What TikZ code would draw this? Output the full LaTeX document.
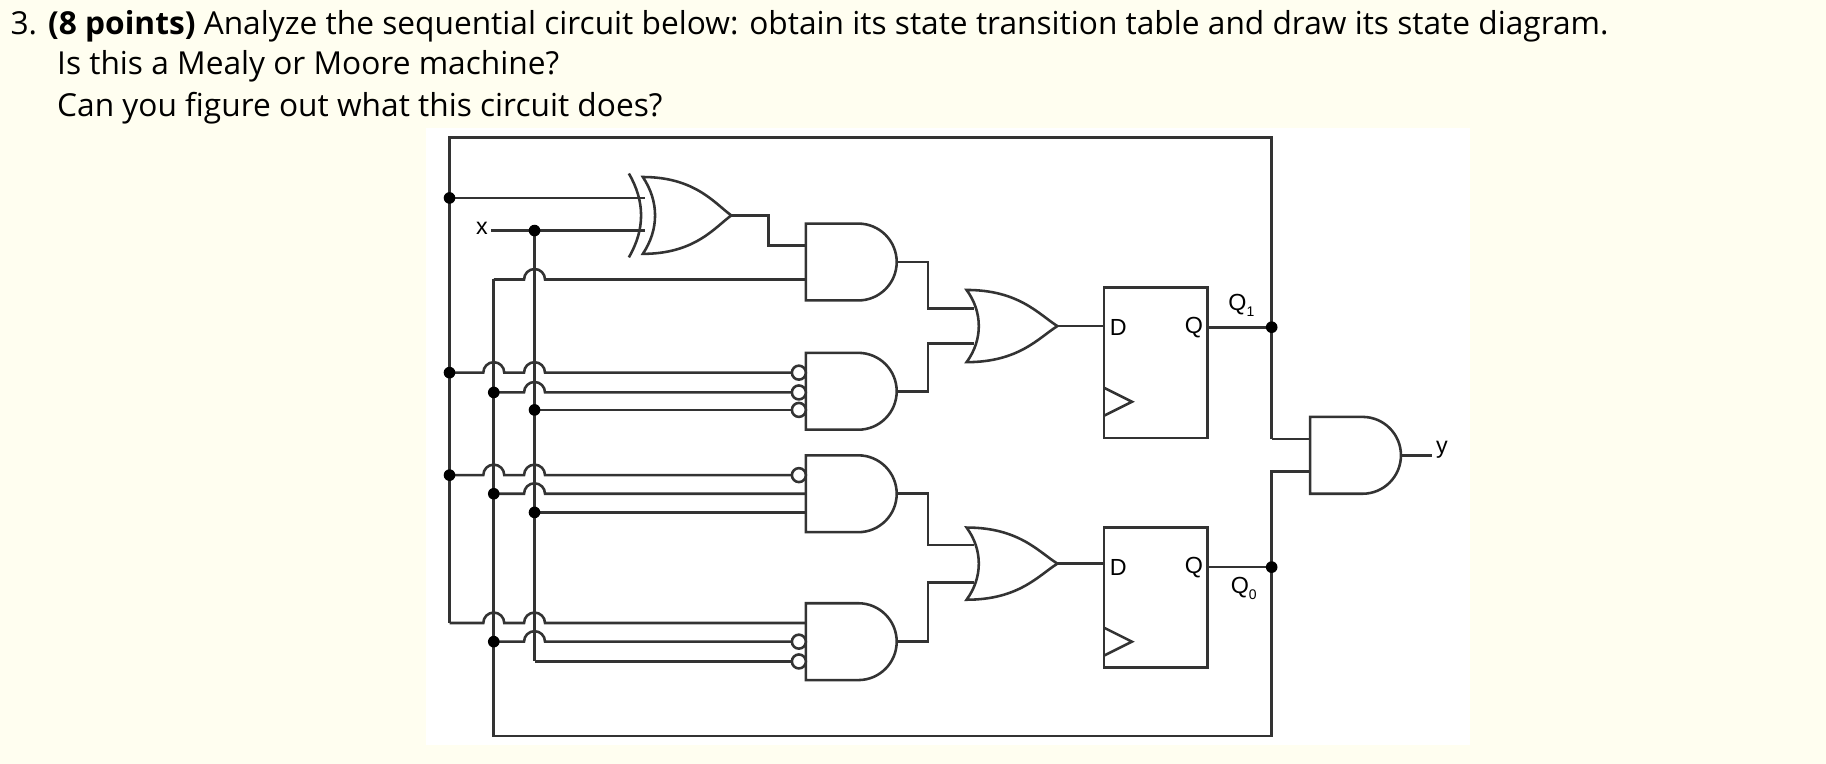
\documentclass[tikz,border=0pt]{standalone}
\usepackage{fontspec}
\setmainfont{Open Sans}
\newfontfamily\arialf{Liberation Sans}
\begin{document}
\begin{tikzpicture}[x=0.5pt,y=-0.5pt,line width=1.1pt,
  wire/.style={draw=black!80},
  gate/.style={draw=black!80,fill=white},
  dot/.style={circle,fill=black,inner sep=0pt,minimum size=5pt},
  bub/.style={circle,draw=black!80,fill=white,inner sep=0pt,minimum size=6pt},
  lab/.style={font=\arialf\fontsize{10}{12}\selectfont,inner sep=0pt},
  jump/.style={},
  andg/.pic={\path[gate] (0,-33) -- (45,-33) arc[start angle=90,end angle=-90,radius=16.5pt] -- (0,33) -- cycle;},
  org/.pic={\path[gate] (0,-31) .. controls (45,-31) and (62,-10) .. (78,0) .. controls (62,10) and (45,31) .. (0,31) .. controls (14,12) and (14,-12) .. cycle;},
  xorg/.pic={\path[gate] (0,-33) .. controls (45,-33) and (62,-10) .. (76,0) .. controls (62,10) and (45,33) .. (0,33) .. controls (14,12) and (14,-12) .. cycle;
    \draw[draw=black!80] (-12,-36) .. controls (2,-12) and (2,12) .. (-12,36);}]
\fill[yellow!6] (0,0) rectangle (1568,656);
\fill[white] (366,110) rectangle (1262,640);
\node[anchor=base west,inner sep=0pt,font=\fontsize{13.6}{16}\selectfont] (t1) at (8,30) {3. \textbf{(8 points)} Analyze the sequential circuit below: obtain its state transition table and draw its state diagram.};
\node[anchor=base west,inner sep=0pt,font=\fontsize{13.6}{16}\selectfont] (t2) at (48,64) {Is this a Mealy or Moore machine?};
\node[anchor=base west,inner sep=0pt,font=\fontsize{13.6}{16}\selectfont] (t3) at (48,100) {Can you figure out what this circuit does?};
% gates
\pic at (552,185) {xorg};
\pic at (692,225) {andg};
\pic at (692,336) {andg};
\pic at (692,424) {andg};
\pic at (692,551) {andg};
\pic at (830,280) {org};
\pic at (830,484) {org};
\pic at (1125,391) {andg};
% flip-flops
\draw[draw=black!80] (948,247) rectangle (1037,376);
\draw[draw=black!80] (948,453) rectangle (1037,573);
\draw[draw=black!80] (948,333) -- (972,345) -- (948,357);
\draw[draw=black!80] (948,539) -- (972,551) -- (948,563);
\node[lab,anchor=west] (d1) at (952,281) {D};
\node[lab,anchor=east] (q1) at (1034,281) {Q};
\node[lab,anchor=west] (d0) at (952,487) {D};
\node[lab,anchor=east] (q0) at (1034,487) {Q};
\node[lab] (lq1) at (1066,262) {Q\raisebox{-0.5ex}{\fontsize{6}{6}\selectfont 1}};
\node[lab] (lq0) at (1068,505) {Q\raisebox{-0.5ex}{\fontsize{6}{6}\selectfont 0}};
\node[lab,anchor=east] (lx) at (420,196) {x};
\node[lab,anchor=west] (ly) at (1232,386) {y};
% Q1 loop
\draw[wire] (1037,281) -- (1092,281);
\draw[wire] (1092,377) -- (1092,118) -- (386,118) -- (386,535);
\draw[wire] (1092,377) -- (1125,377);
\draw[wire] (386,170) -- (554,170);
% Q0 loop
\draw[wire] (1037,487) -- (1092,487);
\draw[wire] (1125,405) -- (1092,405) -- (1092,632) -- (424,632) -- (424,240);
% x
\draw[wire] (422,198) -- (554,198);
\draw[wire] (459,198) -- (459,568);
% XOR -> AND1
\draw[wire] (628,185) -- (660,185) -- (660,211) -- (692,211);
% AND1 bottom input (Q0)
\draw[wire] (424,240) -- (450,240) arc[start angle=180,end angle=0,radius=4.5pt] -- (692,240);
% AND2 inputs
\draw[wire] (386,320) -- (415,320) arc[start angle=180,end angle=0,radius=4.5pt] -- (450,320) arc[start angle=180,end angle=0,radius=4.5pt] -- (680,320);
\draw[wire] (424,337) -- (450,337) arc[start angle=180,end angle=0,radius=4.5pt] -- (680,337);
\draw[wire] (459,352) -- (680,352);
\node[bub] at (686,320) {}; \node[bub] at (686,337) {}; \node[bub] at (686,352) {};
% AND3 inputs
\draw[wire] (386,408) -- (415,408) arc[start angle=180,end angle=0,radius=4.5pt] -- (450,408) arc[start angle=180,end angle=0,radius=4.5pt] -- (680,408);
\draw[wire] (424,424) -- (450,424) arc[start angle=180,end angle=0,radius=4.5pt] -- (692,424);
\draw[wire] (459,440) -- (692,440);
\node[bub] at (686,408) {};
% AND4 inputs
\draw[wire] (386,535) -- (415,535) arc[start angle=180,end angle=0,radius=4.5pt] -- (450,535) arc[start angle=180,end angle=0,radius=4.5pt] -- (692,535);
\draw[wire] (424,551) -- (450,551) arc[start angle=180,end angle=0,radius=4.5pt] -- (680,551);
\draw[wire] (459,568) -- (680,568);
\node[bub] at (686,551) {}; \node[bub] at (686,568) {};
% AND -> OR
\draw[wire] (769,225) -- (797,225) -- (797,265) -- (836,265);
\draw[wire] (769,336) -- (797,336) -- (797,295) -- (836,295);
\draw[wire] (769,424) -- (797,424) -- (797,468) -- (836,468);
\draw[wire] (769,551) -- (797,551) -- (797,500) -- (836,500);
% OR -> D
\draw[wire] (908,280) -- (948,280);
\draw[wire] (908,484) -- (948,484);
% output
\draw[wire] (1202,391) -- (1230,391);
% dots
\foreach \p in {(386,170),(386,320),(386,408),(424,337),(424,424),(424,551),(459,198),(459,352),(459,440),(1092,281),(1092,487)}
  \node[dot] at \p {};
\end{tikzpicture}
\end{document}
